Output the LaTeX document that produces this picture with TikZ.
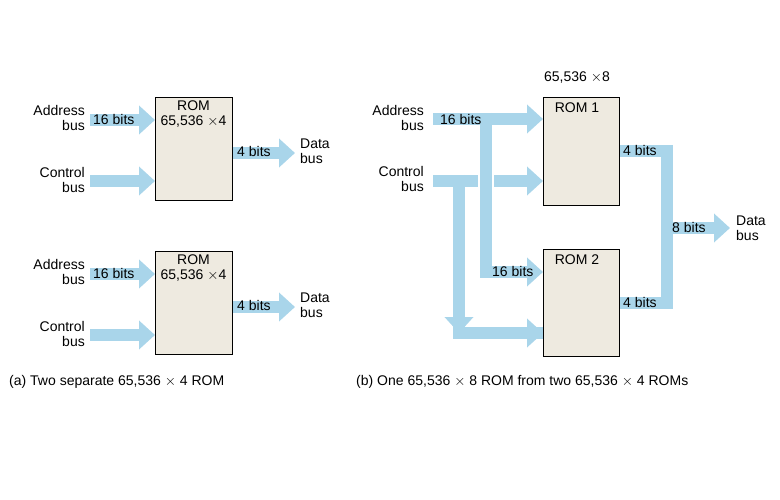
\documentclass[tikz,border=0pt]{standalone}
\usepackage{fontspec}
\setmainfont{Liberation Sans}
\usetikzlibrary{arrows.meta}
\definecolor{busc}{HTML}{A9D5EA}
\definecolor{romc}{HTML}{EEEAE0}
\begin{document}
\begin{tikzpicture}[x=1pt,y=-1pt,
  bus/.style={draw=busc,line width=12pt},
  arr/.style={bus,-{Triangle[width=28pt,length=16pt]}},
  rom/.style={draw=black,line width=1pt,fill=romc,anchor=north west,inner sep=0pt},
  lbl/.style={font=\fontsize{14}{15}\selectfont,inner sep=1pt},
  side/.style={lbl,align=right,anchor=east},
  dside/.style={lbl,align=left,anchor=west}]
\useasboundingbox (0,0) rectangle (780,500);
% ---------- (a) ----------
\foreach \o/\n in {0/t,154/b}{
  \begin{scope}[yshift=-\o pt]
  \node[rom,minimum width=77pt,minimum height=103pt] (rom\n) at (155,97) {};
  \node[lbl,align=center,anchor=north] (rt\n) at (193.5,100) {ROM\\65,536 $\times$4};
  \coordinate (as\n) at (90,120); \coordinate (cs\n) at (90,181);
  \draw[arr] (as\n) -- (as\n -| rom\n.west);
  \draw[arr] (cs\n) -- (cs\n -| rom\n.west);
  \coordinate (ds\n) at (rom\n.east |- 0,153); \coordinate (de\n) at (295,153);
  \draw[arr] (ds\n) -- (de\n);
  \node[side] (al\n) at (86,118) {Address\\bus};
  \node[side] (cl\n) at (86,180) {Control\\bus};
  \node[dside] (dl\n) at (299,151) {Data\\bus};
  \node[lbl,anchor=west] (ab\n) at (92,119) {16 bits};
  \node[lbl,anchor=west] (db\n) at (236,151) {4 bits};
  \end{scope}}
\node[lbl,anchor=west] (capa) at (8,382) {(a) Two separate 65,536 $\times$ 4 ROM};
% ---------- (b) ----------
\node[rom,minimum width=76pt,minimum height=108pt] (r1) at (543,97) {};
\node[rom,minimum width=76pt,minimum height=107pt] (r2) at (543,249) {};
\node[lbl,anchor=north] (r1t) at (577,102) {ROM 1};
\node[lbl,anchor=north] (r2t) at (577,254) {ROM 2};
\node[lbl] (sz) at (577,78) {65,536 $\times$8};
\node[side] (al) at (425,118) {Address\\bus};
\node[side] (cl) at (425,179) {Control\\bus};
\node[dside] (dl) at (735,228) {Data\\bus};
\coordinate (a0) at (433,119); \coordinate (av) at (486,119);
\coordinate (ab) at (486,272);
\coordinate (c0) at (433,181); \coordinate (cv) at (459,181);
\coordinate (cb) at (459,333);
% control bus
\draw[bus] (cv) -- (cb) -- (cb -| r2.west);
\draw[arr] (c0) -- (c0 -| r1.west);
\draw[arr] (cv) ++(0,-6) -- ++(0,158) ;
\draw[arr] (cb) ++(-6,0) -- (cb -| r2.west);
% address bus (drawn above, with white gap)
\draw[draw=white,line width=16pt] (486,174) -- (486,188);
\draw[arr] (a0) -- (a0 -| r1.west);
\draw[bus] (av) ++(0,-6) -- (ab);
\draw[arr] (ab) ++(-6,0) -- (ab -| r2.west);
\node[lbl,anchor=west] (b16a) at (439,119) {16 bits};
\node[lbl,anchor=west] (b16b) at (491,271) {16 bits};
% data bus
\coordinate (d1) at (667,151); \coordinate (d2) at (667,303);
\draw[bus] (d1 -| r1.east) -- (d1) ++(0,-6) -- ++(0,164) (d2) -- (d2 -| r2.east);
\draw[arr] (661,228) -- (730,228);
\node[lbl,anchor=west] (b4a) at (622,150) {4 bits};
\node[lbl,anchor=west] (b4b) at (622,302) {4 bits};
\node[lbl,anchor=west] (b8) at (671,227) {8 bits};
\node[lbl,anchor=west] (capb) at (355,382) {(b) One 65,536 $\times$ 8 ROM from two 65,536 $\times$ 4 ROMs};
\end{tikzpicture}
\end{document}
